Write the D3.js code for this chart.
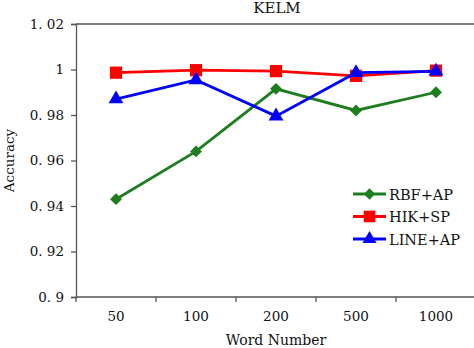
<!DOCTYPE html>
<html>
<head>
<meta charset="utf-8">
<script src="https://cdn.jsdelivr.net/npm/d3@7/dist/d3.min.js"></script>
<style>
  html, body { margin: 0; padding: 0; background: #fff; }
  svg { display: block; }
  svg text { font-family: "DejaVu Serif", serif !important; fill: #111; }
</style>
</head>
<body>
<svg id="chart" width="474" height="348"></svg>
<script>
// Word-number categories along the x axis
const categories = ["50", "100", "200", "500", "1000"];

// Accuracy for each feature/kernel combination
const rbfAp  = [0.943, 0.964, 0.9915, 0.982, 0.990];
const hikSp  = [0.9986, 0.9997, 0.9993, 0.9972, 0.9995];
const lineAp = [0.987, 0.9954, 0.9795, 0.9986, 0.9992];

const seriesNames = ["RBF+AP", "HIK+SP", "LINE+AP"];
const yTicks = [0.9, 0.92, 0.94, 0.96, 0.98, 1, 1.02];
const yTickLabels = ["0. 9", "0. 92", "0. 94", "0. 96", "0. 98", "1", "1. 02"];

const series = [
  { name: seriesNames[0], values: rbfAp,  color: "#1e7d1e", shape: d3.symbolDiamond2 },
  { name: seriesNames[1], values: hikSp,  color: "#ff0000", shape: d3.symbolSquare },
  { name: seriesNames[2], values: lineAp, color: "#0000ff", shape: d3.symbolTriangle }
];

const svg = d3.select("#chart");
const margin = { left: 76, right: 0, top: 24, bottom: 51 };
const W = 474, H = 348;

const x = d3.scaleBand().domain(categories).range([margin.left, W - margin.right + 2]);
const y = d3.scaleLinear().domain([0.9, 1.02]).range([H - margin.bottom, margin.top]);

// Title
svg.append("text").attr("x", 277).attr("y", 13).attr("text-anchor", "middle")
  .style("font-size", "15px").text("KELM");

// Frame: top border
svg.append("line").attr("x1", margin.left).attr("x2", W).attr("y1", y(1.02)).attr("y2", y(1.02))
  .attr("stroke", "#555").attr("stroke-width", 1.3);

// Y axis
const yAxis = d3.axisLeft(y).tickValues(yTicks).tickSize(5).tickPadding(7)
  .tickFormat((d, i) => yTickLabels[i]);
const gy = svg.append("g").attr("transform", `translate(${margin.left},0)`).call(yAxis);
gy.select(".domain").attr("stroke", "#555").attr("stroke-width", 1.3);
gy.selectAll(".tick line").attr("stroke", "#555").attr("stroke-width", 1.3);
gy.selectAll(".tick text").style("font-size", "13.5px").attr("fill", "#222");

// X axis: ticks at band boundaries, labels at band centres
const gx = svg.append("g").attr("transform", `translate(0,${y(0.9)})`);
gx.append("line").attr("x1", margin.left).attr("x2", W).attr("y1", 0).attr("y2", 0)
  .attr("stroke", "#555").attr("stroke-width", 1.3);
const bounds = categories.map(c => x(c)).concat([x(categories[categories.length - 1]) + x.bandwidth()]);
gx.selectAll("line.tk").data(bounds).join("line").attr("class", "tk")
  .attr("x1", d => d).attr("x2", d => d).attr("y1", 0).attr("y2", 5)
  .attr("stroke", "#555").attr("stroke-width", 1.3);
gx.selectAll("text").data(categories).join("text")
  .attr("x", d => x(d) + x.bandwidth() / 2).attr("y", 24)
  .attr("text-anchor", "middle").style("font-size", "13.5px").attr("fill", "#222").text(d => d);

// Axis titles
svg.append("text").attr("x", x(categories[2]) + x.bandwidth() / 2).attr("y", 345)
  .attr("text-anchor", "middle").style("font-size", "14px").text("Word Number");
svg.append("text").attr("transform", `translate(14,${(y(0.9) + y(1.02)) / 2}) rotate(-90)`)
  .attr("text-anchor", "middle").style("font-size", "13.5px").text("Accuracy");

// Lines and markers
const cx = c => x(c) + x.bandwidth() / 2;
const line = d3.line().x((d, i) => cx(categories[i])).y(d => y(d));
const symSize = { "RBF+AP": 90, "HIK+SP": 150, "LINE+AP": 95 };

series.forEach(s => {
  const g = svg.append("g");
  g.append("path").datum(s.values).attr("d", line)
    .attr("fill", "none").attr("stroke", s.color).attr("stroke-width", 2.8);
  g.selectAll("path.m").data(s.values).join("path").attr("class", "m")
    .attr("transform", (d, i) => `translate(${cx(categories[i])},${y(d)})`)
    .attr("d", d3.symbol().type(s.shape).size(symSize[s.name]))
    .attr("fill", s.color);
});

// Legend
const legend = svg.append("g");
series.forEach((s, i) => {
  const ly = 194 + i * 22.5;
  legend.append("line").attr("x1", 353).attr("x2", 386).attr("y1", ly).attr("y2", ly)
    .attr("stroke", s.color).attr("stroke-width", 2.8);
  legend.append("path").attr("transform", `translate(369.5,${ly})`)
    .attr("d", d3.symbol().type(s.shape).size(symSize[s.name] * 0.9)).attr("fill", s.color);
  legend.append("text").attr("x", 389).attr("y", ly + 5.5)
    .style("font-size", "14.5px").text(s.name);
});
</script>
</body>
</html>
